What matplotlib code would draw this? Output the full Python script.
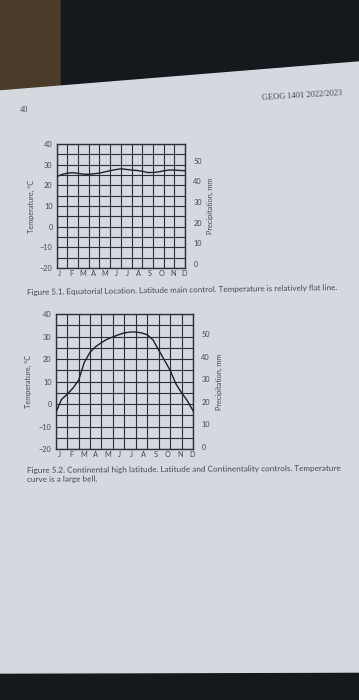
import numpy as np
import matplotlib
matplotlib.use("Agg")
import matplotlib.pyplot as plt
from matplotlib.patches import Polygon

plt.rcParams['font.family'] = ['Lato', 'DejaVu Sans']

months = ["J", "F", "M", "A", "M", "J", "J", "A", "S", "O", "N", "D"]
temp_ticks = [-20, -10, 0, 10, 20, 30, 40]
precip_ticks = [0, 10, 20, 30, 40, 50]

# temperature (deg C) every half month, start of Jan to end of Dec
half_month = np.arange(25) / 2.0
equatorial_temp = [24.2, 25.3, 25.9, 26.1, 25.8, 25.4, 25.3, 25.6, 25.9, 26.5,
                   27.1, 27.6, 28.0, 27.7, 27.4, 27.2, 26.8, 26.2, 26.2, 26.5,
                   27.0, 27.4, 27.4, 27.2, 27.1]
continental_temp = [-4.0, 2.0, 4.3, 7.0, 10.5, 18.5, 23.0, 25.5, 27.3, 28.8,
                    29.8, 30.8, 31.6, 32.0, 32.0, 31.6, 30.8, 28.5, 24.0, 19.5,
                    15.0, 9.0, 5.0, 1.5, -3.0]

caption_1 = ("Figure 5.1. Equatorial Location. Latitude main control. "
             "Temperature is relatively flat line.")
caption_2 = ("Figure 5.2. Continental high latitude. Latitude and "
             "Continentality controls. Temperature\ncurve is a large bell.")

W, H = 359, 700
PAGE = "#d4d8df"
INK = "#2b2f36"
TXT = "#454a52"

fig = plt.figure(figsize=(W / 100, H / 100), dpi=100)
fig.patch.set_facecolor("#15181c")


def fx(x):
    return x / W


def fy(y):
    return 1 - y / H


# photographed page and the dark surroundings
fig.add_artist(Polygon([(fx(0), fy(0)), (fx(60), fy(0)), (fx(60), fy(88)),
                        (fx(0), fy(91))], closed=True, color="#4a3c28",
                       transform=fig.transFigure, zorder=0))
fig.add_artist(Polygon([(fx(0), fy(91)), (fx(359), fy(62)), (fx(359), fy(672)),
                        (fx(0), fy(673))], closed=True, color=PAGE,
                       transform=fig.transFigure, zorder=0))

fig.text(fx(20), fy(110), "40", fontsize=6, family="Liberation Serif",
         color=TXT, ha="left", va="center")
fig.text(fx(302), fy(96), "GEOG 1401 2022/2023", fontsize=6,
         family="Liberation Serif", color=TXT, ha="center", va="center",
         rotation=3.5)


def draw_chart(box, temps, offset, caption, cap_xy, cap_rot, cap_size):
    left, top, right, bottom = box
    ax = fig.add_axes([fx(left), fy(bottom), fx(right - left), (bottom - top) / H])
    ax.set_facecolor(PAGE)
    ax.plot(half_month, temps, color="#1e2126", lw=1.0, zorder=3)
    ax.set_xlim(0, 12)
    ax.set_ylim(-20, 40)

    ax.set_xticks(np.arange(13), minor=True)
    ax.set_xticks(0.3 + np.arange(12) * 1.055)
    ax.set_xticklabels(months)
    ax.set_yticks(np.arange(-20, 41, 5), minor=True)
    ax.set_yticks(temp_ticks)
    ax.xaxis.grid(True, which="minor", color=INK, lw=0.8)
    ax.yaxis.grid(True, which="both", color=INK, lw=0.8)
    ax.tick_params(which="both", length=0, labelsize=5.3, colors=TXT)
    ax.tick_params(axis="x", pad=1.5)
    ax.tick_params(axis="y", pad=3)
    for s in ax.spines.values():
        s.set_color(INK)
        s.set_linewidth(1.0)
    ax.set_ylabel("Temperature, \u00b0C", fontsize=5.3, color=TXT)
    ax.yaxis.set_label_coords(-0.17, 0.5)

    ax2 = ax.twinx()
    ax2.set_ylim(-20 + offset, 40 + offset)
    ax2.set_yticks(precip_ticks)
    ax2.tick_params(length=0, labelsize=5.3, colors=TXT, pad=6)
    for s in ax2.spines.values():
        s.set_visible(False)
    ax2.set_ylabel("Precipitation, mm", fontsize=5.3, color=TXT)
    ax2.yaxis.set_label_coords(1.17, 0.5)

    fig.text(fx(cap_xy[0]), fy(cap_xy[1]), caption, fontsize=cap_size, color=TXT,
             ha="left", va="top", rotation=cap_rot, linespacing=1.25)


draw_chart((56.7, 144, 185, 268), equatorial_temp, 18, caption_1, (27, 284), 0.9, 5.8)
draw_chart((55.7, 314, 193, 449), continental_temp, 19, caption_2, (27, 465), 0.4, 5.9)

fig.savefig("out.png", dpi=100, facecolor=fig.get_facecolor())
